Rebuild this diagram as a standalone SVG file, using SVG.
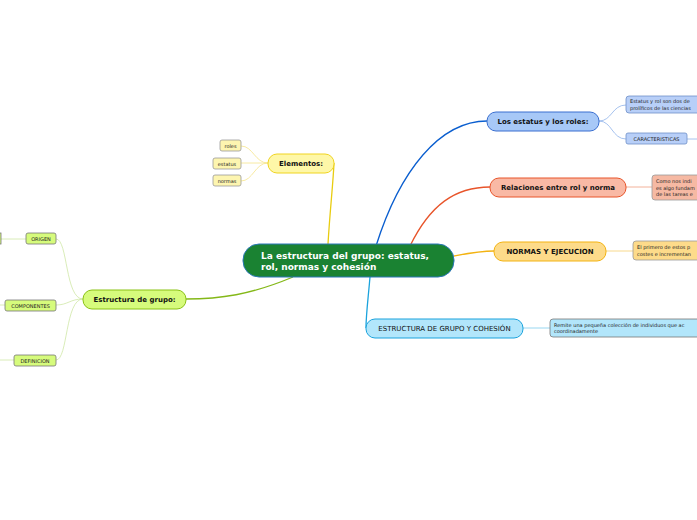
<svg xmlns="http://www.w3.org/2000/svg" width="697" height="520" viewBox="0 0 697 520">
<style>
text{font-family:"DejaVu Sans","Liberation Sans",sans-serif}
.m{font-size:7px;font-weight:bold;fill:#111}
.s{font-size:5px;fill:#222}
.d{font-size:5px;fill:#222}
.c{fill:none}
</style>
<rect width="697" height="520" fill="#fff"/>
<g id="connectors" class="c">
<path d="M376,246 C400,170 440,121 487,121" stroke="#0a5ecf" stroke-width="1.3"/>
<path d="M410,246 C430,205 455,187 490,187" stroke="#e8542a" stroke-width="1.3"/>
<path d="M454,256 C470,253 480,251 494,251" stroke="#f3b312" stroke-width="1.3"/>
<path d="M370,277 C368,300 366,315 366,328" stroke="#1aa3dd" stroke-width="1.3"/>
<path d="M328,244 C330,210 333,185 334,163" stroke="#e8cc10" stroke-width="1.3"/>
<path d="M293,277 C250,295 220,299 186,299" stroke="#84b818" stroke-width="1.3"/>
<path d="M599,121 C612,121 612,105 626,105 M599,121 C612,121 612,139 626,139 M687,139 L697,139" stroke="#8fb3ea" stroke-width="0.8"/>
<path d="M626,187 L652,187" stroke="#f0a080" stroke-width="0.8"/>
<path d="M606,251 L633,251" stroke="#f6cf6f" stroke-width="0.8"/>
<path d="M523,328 L550,328" stroke="#7fcdee" stroke-width="0.8"/>
<path d="M268,163 C255,163 253,146 241,146 M268,163 L241,163 M268,163 C255,163 253,181 241,181" stroke="#f6e58a" stroke-width="0.8"/>
<path d="M83,299 C65,299 68,239 56,239 M83,299 C70,299 68,305 56,305 M83,299 C65,299 68,360 56,360 M26,239 L0,239 M5,305 L0,305 M14,360 L0,360" stroke="#cfe7a6" stroke-width="0.8"/>
</g>
<g id="central"><rect x="243" y="244" width="211" height="33" rx="16" fill="#1a8232" stroke="#2a77b8" stroke-width="1"/>
<text x="261" y="259" font-size="9" font-weight="bold" fill="#fff">La estructura del grupo: estatus,</text>
<text x="261" y="270" font-size="9" font-weight="bold" fill="#fff">rol, normas y cohesión</text></g>
<g id="estatus-roles"><rect x="487" y="112" width="112" height="19" rx="9" fill="#a7c8f7" stroke="#3a6fd0"/><text class="m" x="543" y="124" text-anchor="middle">Los estatus y los roles:</text></g>
<g id="estatus-detail"><rect x="626" y="96" width="80" height="17" rx="3" fill="#b8cff8" stroke="#6f8fc8" stroke-width="0.8"/><text class="d" x="630" y="103">Estatus y rol son dos de</text><text class="d" x="630" y="109.5">prolíficos de las ciencias</text></g>
<g id="caracteristicas"><rect x="626" y="133" width="61" height="11" rx="2" fill="#b8cff8" stroke="#6f8fc8" stroke-width="0.8"/><text class="s" x="656.5" y="140.5" text-anchor="middle">CARACTERISTICAS</text></g>
<g id="relaciones"><rect x="490" y="178" width="136" height="19" rx="9" fill="#f9b9a5" stroke="#e8542a"/><text class="m" x="558" y="190" text-anchor="middle">Relaciones entre rol y norma</text></g>
<g id="relaciones-detail"><rect x="652" y="175" width="60" height="25" rx="3" fill="#f6b9a3" stroke="#999" stroke-width="0.8"/><text class="d" x="656" y="183">Como nos indi</text><text class="d" x="656" y="189.5">es algo fundam</text><text class="d" x="656" y="196">de las tareas e</text></g>
<g id="normas-ejecucion"><rect x="494" y="242" width="112" height="19" rx="9" fill="#fddb8a" stroke="#f3b312"/><text class="m" x="550" y="254" text-anchor="middle">NORMAS Y EJECUCION</text></g>
<g id="normas-detail"><rect x="633" y="241" width="80" height="19" rx="3" fill="#fddb8a" stroke="#999" stroke-width="0.8"/><text class="d" x="637" y="249">El primero de estos p</text><text class="d" x="637" y="255.5">costes e incrementan</text></g>
<g id="cohesion"><rect x="366" y="319" width="157" height="19" rx="9" fill="#b2e6fb" stroke="#1aa3dd"/><text x="444.5" y="331" text-anchor="middle" font-size="7" fill="#111">ESTRUCTURA DE GRUPO Y COHESIÓN</text></g>
<g id="cohesion-detail"><rect x="550" y="319" width="160" height="18" rx="3" fill="#b2e6fb" stroke="#777" stroke-width="0.8"/><text class="d" x="554" y="326.5">Remite una pequeña colección de individuos que ac</text><text class="d" x="554" y="333">coordinadamente</text></g>
<g id="elementos"><rect x="268" y="154" width="66" height="19" rx="9" fill="#fef7a8" stroke="#f0d420"/><text class="m" x="301" y="166" text-anchor="middle">Elementos:</text></g>
<g id="roles"><rect x="220" y="140" width="21" height="11" rx="2" fill="#fdf5b0" stroke="#999" stroke-width="0.8"/><text class="s" x="230.5" y="147.5" text-anchor="middle">roles</text></g>
<g id="estatus"><rect x="213" y="158" width="28" height="11" rx="2" fill="#fdf5b0" stroke="#999" stroke-width="0.8"/><text class="s" x="227" y="165.5" text-anchor="middle">estatus</text></g>
<g id="normas"><rect x="213" y="175" width="28" height="11" rx="2" fill="#fdf5b0" stroke="#999" stroke-width="0.8"/><text class="s" x="227" y="182.5" text-anchor="middle">normas</text></g>
<g id="estructura-grupo"><rect x="83" y="290" width="103" height="19" rx="9" fill="#d6fb7c" stroke="#8ac214"/><text class="m" x="134.5" y="302" text-anchor="middle">Estructura de grupo:</text></g>
<g id="origen"><rect x="26" y="233" width="30" height="11" rx="2" fill="#d6fb7c" stroke="#777" stroke-width="0.8"/><text class="s" x="41" y="240.5" text-anchor="middle">ORIGEN</text></g>
<g id="componentes"><rect x="5" y="300" width="51" height="11" rx="2" fill="#d6fb7c" stroke="#777" stroke-width="0.8"/><text class="s" x="30.5" y="307.5" text-anchor="middle">COMPONENTES</text></g>
<g id="definicion"><rect x="14" y="355" width="42" height="11" rx="2" fill="#d6fb7c" stroke="#777" stroke-width="0.8"/><text class="s" x="35" y="362.5" text-anchor="middle">DEFINICION</text></g>
<rect x="-5" y="233" width="6" height="11" fill="#d6fb7c" stroke="#777" stroke-width="0.8"/>
</svg>
